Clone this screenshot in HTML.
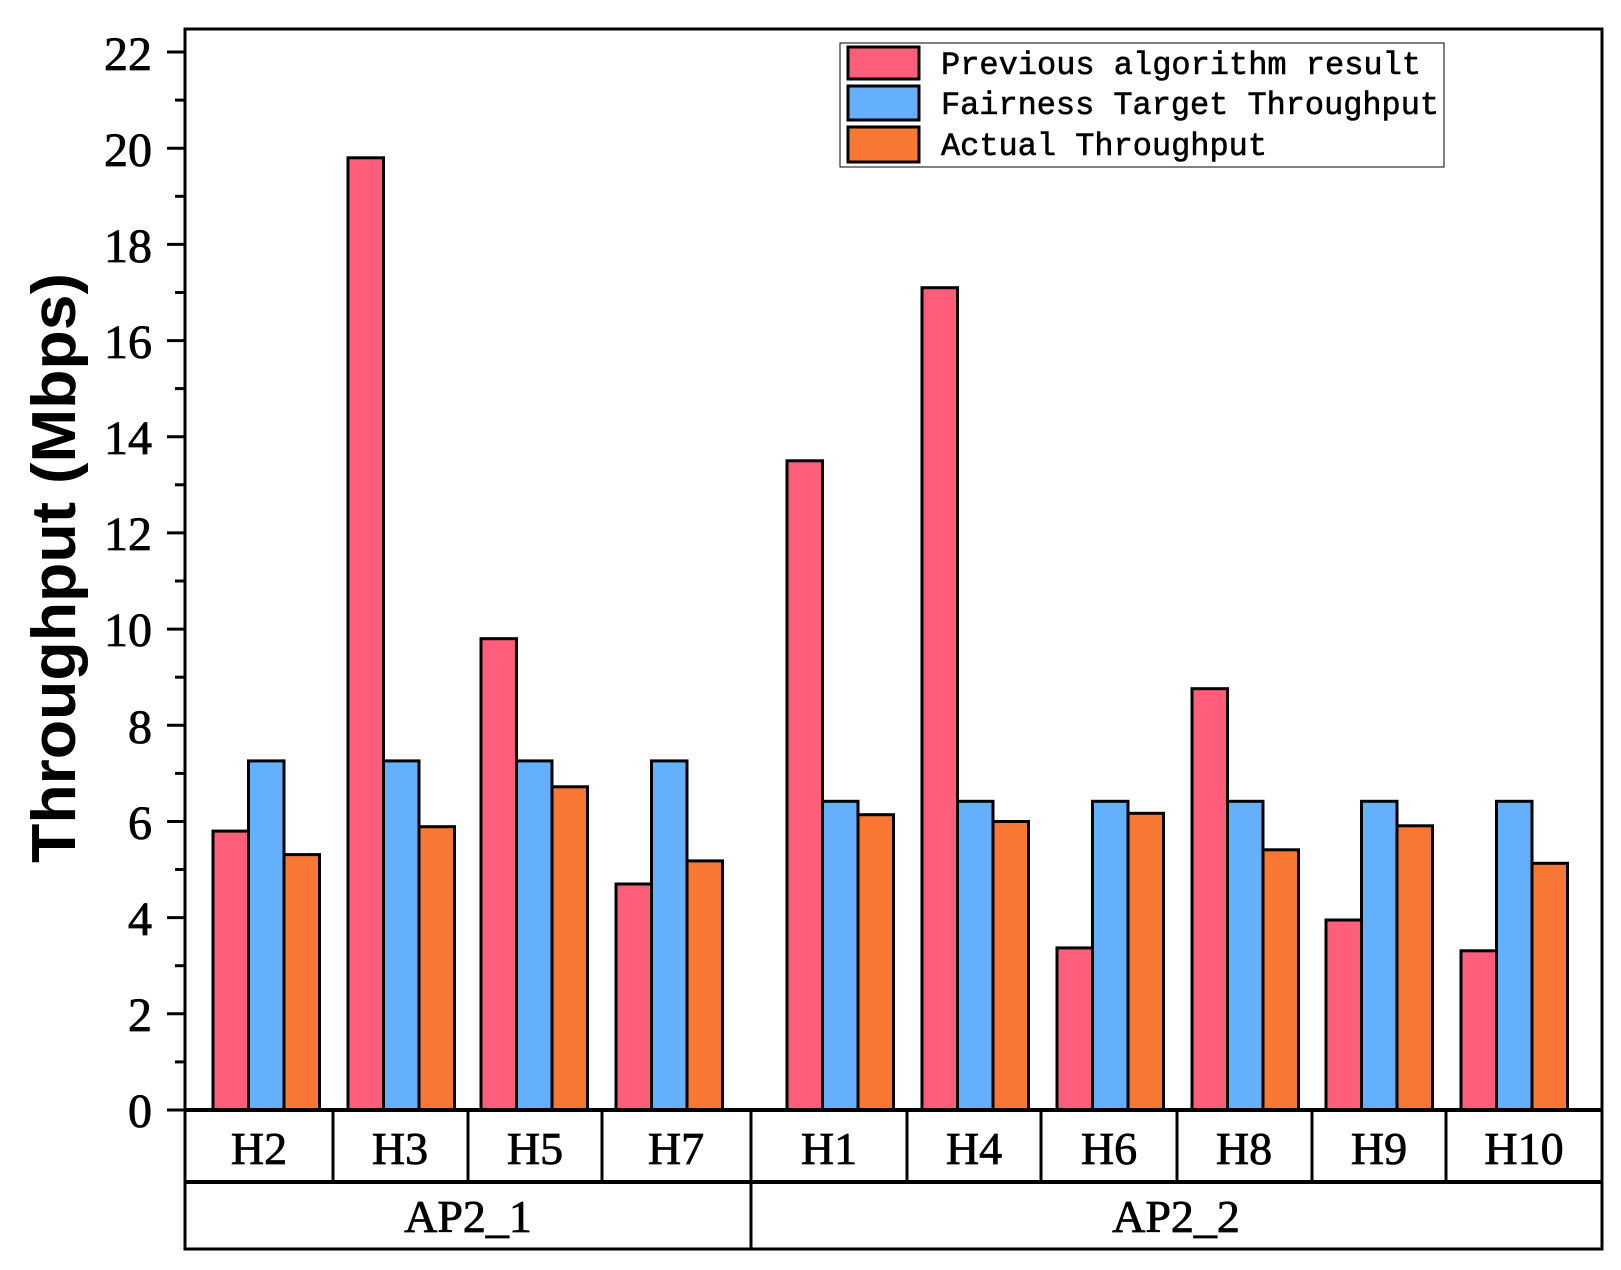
<!DOCTYPE html>
<html><head><meta charset="utf-8"><style>html,body{margin:0;padding:0;background:#fff}svg{display:block}</style></head>
<body>
<svg width="1621" height="1270" viewBox="0 0 1621 1270" xmlns="http://www.w3.org/2000/svg">
<g stroke="#000" stroke-width="3">
<g fill="#FF5E7A">
<rect x="213" y="831.1" width="35.5" height="278.9"/>
<rect x="348" y="157.8" width="35.5" height="952.2"/>
<rect x="481" y="638.7" width="35.5" height="471.3"/>
<rect x="616" y="884" width="35.5" height="226"/>
<rect x="787" y="460.8" width="35.5" height="649.2"/>
<rect x="922" y="287.7" width="35.5" height="822.3"/>
<rect x="1057" y="947.9" width="35.5" height="162.1"/>
<rect x="1192" y="688.7" width="35.5" height="421.3"/>
<rect x="1326" y="920" width="35.5" height="190"/>
<rect x="1461" y="950.8" width="35.5" height="159.2"/>
</g>
<g fill="#64B0FC">
<rect x="248.5" y="760.9" width="35.5" height="349.1"/>
<rect x="383.5" y="760.9" width="35.5" height="349.1"/>
<rect x="516.5" y="760.9" width="35.5" height="349.1"/>
<rect x="651.5" y="760.9" width="35.5" height="349.1"/>
<rect x="822.5" y="801.3" width="35.5" height="308.7"/>
<rect x="957.5" y="801.3" width="35.5" height="308.7"/>
<rect x="1092.5" y="801.3" width="35.5" height="308.7"/>
<rect x="1227.5" y="801.3" width="35.5" height="308.7"/>
<rect x="1361.5" y="801.3" width="35.5" height="308.7"/>
<rect x="1496.5" y="801.3" width="35.5" height="308.7"/>
</g>
<g fill="#F77733">
<rect x="284" y="854.6" width="35.5" height="255.4"/>
<rect x="419" y="826.7" width="35.5" height="283.3"/>
<rect x="552" y="786.8" width="35.5" height="323.2"/>
<rect x="687" y="860.9" width="35.5" height="249.1"/>
<rect x="858" y="814.7" width="35.5" height="295.3"/>
<rect x="993" y="821.5" width="35.5" height="288.5"/>
<rect x="1128" y="813.3" width="35.5" height="296.7"/>
<rect x="1263" y="849.8" width="35.5" height="260.2"/>
<rect x="1397" y="825.8" width="35.5" height="284.2"/>
<rect x="1532" y="863.3" width="35.5" height="246.7"/>
</g>
</g>
<g stroke="#000" stroke-width="3" fill="none">
<rect x="185" y="29" width="1417" height="1220"/>
<line x1="185" y1="1110" x2="1602" y2="1110" stroke-width="4"/>
<line x1="185" y1="1182" x2="1602" y2="1182" stroke-width="4"/>
<line x1="751" y1="1110" x2="751" y2="1249"/>
<line x1="333" y1="1110" x2="333" y2="1182"/>
<line x1="468" y1="1110" x2="468" y2="1182"/>
<line x1="602" y1="1110" x2="602" y2="1182"/>
<line x1="907" y1="1110" x2="907" y2="1182"/>
<line x1="1041" y1="1110" x2="1041" y2="1182"/>
<line x1="1177" y1="1110" x2="1177" y2="1182"/>
<line x1="1312" y1="1110" x2="1312" y2="1182"/>
<line x1="1446" y1="1110" x2="1446" y2="1182"/>
</g>
<g stroke="#000" stroke-width="3">
<line x1="167" y1="1110" x2="185" y2="1110"/>
<line x1="175" y1="1061.9" x2="185" y2="1061.9"/>
<line x1="167" y1="1013.8" x2="185" y2="1013.8"/>
<line x1="175" y1="965.7" x2="185" y2="965.7"/>
<line x1="167" y1="917.6" x2="185" y2="917.6"/>
<line x1="175" y1="869.5" x2="185" y2="869.5"/>
<line x1="167" y1="821.5" x2="185" y2="821.5"/>
<line x1="175" y1="773.4" x2="185" y2="773.4"/>
<line x1="167" y1="725.3" x2="185" y2="725.3"/>
<line x1="175" y1="677.2" x2="185" y2="677.2"/>
<line x1="167" y1="629.1" x2="185" y2="629.1"/>
<line x1="175" y1="581" x2="185" y2="581"/>
<line x1="167" y1="532.9" x2="185" y2="532.9"/>
<line x1="175" y1="484.8" x2="185" y2="484.8"/>
<line x1="167" y1="436.7" x2="185" y2="436.7"/>
<line x1="175" y1="388.6" x2="185" y2="388.6"/>
<line x1="167" y1="340.6" x2="185" y2="340.6"/>
<line x1="175" y1="292.5" x2="185" y2="292.5"/>
<line x1="167" y1="244.4" x2="185" y2="244.4"/>
<line x1="175" y1="196.3" x2="185" y2="196.3"/>
<line x1="167" y1="148.2" x2="185" y2="148.2"/>
<line x1="175" y1="100.1" x2="185" y2="100.1"/>
<line x1="167" y1="52" x2="185" y2="52"/>
</g>
<g font-family="Liberation Serif, serif" font-size="48" text-anchor="end" fill="#000" stroke="#000" stroke-width="0.8">
<text x="152" y="1127">0</text>
<text x="152" y="1031">2</text>
<text x="152" y="935">4</text>
<text x="152" y="839">6</text>
<text x="152" y="743">8</text>
<text x="152" y="646">10</text>
<text x="152" y="550">12</text>
<text x="152" y="454">14</text>
<text x="152" y="358">16</text>
<text x="152" y="262">18</text>
<text x="152" y="166">20</text>
<text x="152" y="70">22</text>
</g>
<g font-family="Liberation Serif, serif" font-size="46" text-anchor="middle" fill="#000" stroke="#000" stroke-width="0.8">
<text x="259" y="1164">H2</text><text x="400" y="1164">H3</text><text x="535" y="1164">H5</text><text x="676" y="1164">H7</text>
<text x="829" y="1164">H1</text><text x="974" y="1164">H4</text><text x="1109" y="1164">H6</text><text x="1244" y="1164">H8</text><text x="1379" y="1164">H9</text><text x="1524" y="1164">H10</text>
<text x="468" y="1232">AP2_1</text><text x="1176" y="1232">AP2_2</text>
</g>
<text transform="translate(75,568) rotate(-90)" font-family="Liberation Sans, sans-serif" font-weight="bold" font-size="62" text-anchor="middle" textLength="590" lengthAdjust="spacingAndGlyphs">Throughput (Mbps)</text>
<rect x="840" y="43" width="604" height="124" fill="#fff" stroke="#000" stroke-width="1"/>
<g stroke="#000" stroke-width="3">
<rect x="848" y="47" width="71" height="32" fill="#FF5E7A"/>
<rect x="848" y="86" width="71" height="34" fill="#64B0FC"/>
<rect x="848" y="127" width="71" height="35" fill="#F77733"/>
</g>
<g font-family="Liberation Mono, monospace" font-size="32" fill="#000" stroke="#000" stroke-width="0.6">
<text x="941" y="74" textLength="480" lengthAdjust="spacingAndGlyphs">Previous algorithm result</text>
<text x="941" y="114" textLength="498" lengthAdjust="spacingAndGlyphs">Fairness Target Throughput</text>
<text x="941" y="155" textLength="326" lengthAdjust="spacingAndGlyphs">Actual Throughput</text>
</g>
</svg>
</body></html>
